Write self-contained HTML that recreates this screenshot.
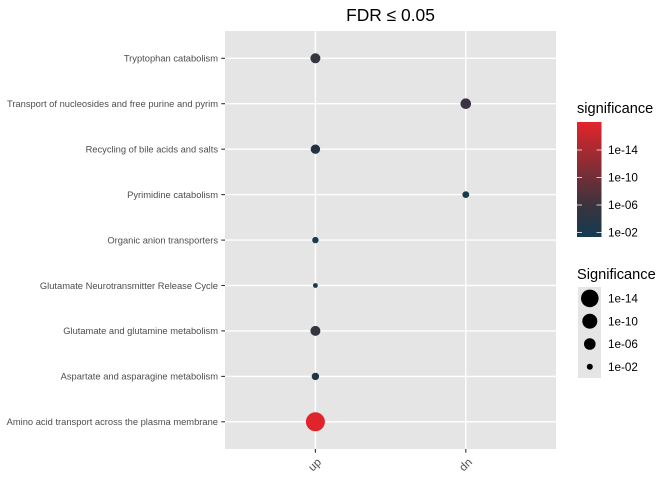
<!DOCTYPE html>
<html>
<head>
<meta charset="utf-8">
<style>
html,body{margin:0;padding:0;background:#fff;}
svg{display:block;font-family:"Liberation Sans",Arial,sans-serif;}
</style>
</head>
<body>
<svg width="672" height="480" viewBox="0 0 672 480" xmlns="http://www.w3.org/2000/svg">
  <defs>
    <linearGradient id="cb" x1="0" y1="1" x2="0" y2="0">
      <stop offset="0" stop-color="#143b52"/>
      <stop offset="0.25" stop-color="#36343f"/>
      <stop offset="0.5" stop-color="#6c2f38"/>
      <stop offset="0.75" stop-color="#a72a31"/>
      <stop offset="1" stop-color="#e3242b"/>
    </linearGradient>
  </defs>
  <rect width="672" height="480" fill="#fff"/>
  <!-- title -->
  <text x="390.5" y="21" font-size="17.4" text-anchor="middle" fill="#000">FDR ≤ 0.05</text>
  <!-- panel -->
  <rect x="225" y="31" width="331" height="418" fill="#e5e5e5"/>
  <g stroke="#fff" stroke-width="1.4">
    <line x1="225" x2="556" y1="58.3" y2="58.3"/>
    <line x1="225" x2="556" y1="103.7" y2="103.7"/>
    <line x1="225" x2="556" y1="149.2" y2="149.2"/>
    <line x1="225" x2="556" y1="194.6" y2="194.6"/>
    <line x1="225" x2="556" y1="240.1" y2="240.1"/>
    <line x1="225" x2="556" y1="285.5" y2="285.5"/>
    <line x1="225" x2="556" y1="330.9" y2="330.9"/>
    <line x1="225" x2="556" y1="376.4" y2="376.4"/>
    <line x1="225" x2="556" y1="421.8" y2="421.8"/>
    <line x1="315.4" x2="315.4" y1="31" y2="449"/>
    <line x1="465.8" x2="465.8" y1="31" y2="449"/>
  </g>
  <!-- points -->
  <circle cx="315.4" cy="58.3" r="5" fill="#33353f"/>
  <circle cx="465.8" cy="103.7" r="5.3" fill="#3a3341"/>
  <circle cx="315.4" cy="149.2" r="4.7" fill="#223242"/>
  <circle cx="465.8" cy="194.6" r="3.4" fill="#183a4f"/>
  <circle cx="315.4" cy="240.1" r="3.2" fill="#1a3a4e"/>
  <circle cx="315.4" cy="285.5" r="2.4" fill="#163b50"/>
  <circle cx="315.4" cy="330.9" r="5" fill="#33353f"/>
  <circle cx="315.4" cy="376.4" r="3.7" fill="#1e3647"/>
  <circle cx="315.4" cy="421.8" r="9.5" fill="#e0242b"/>
  <!-- ticks -->
  <g stroke="#333" stroke-width="1.1">
    <line x1="221.3" x2="225" y1="58.3" y2="58.3"/>
    <line x1="221.3" x2="225" y1="103.7" y2="103.7"/>
    <line x1="221.3" x2="225" y1="149.2" y2="149.2"/>
    <line x1="221.3" x2="225" y1="194.6" y2="194.6"/>
    <line x1="221.3" x2="225" y1="240.1" y2="240.1"/>
    <line x1="221.3" x2="225" y1="285.5" y2="285.5"/>
    <line x1="221.3" x2="225" y1="330.9" y2="330.9"/>
    <line x1="221.3" x2="225" y1="376.4" y2="376.4"/>
    <line x1="221.3" x2="225" y1="421.8" y2="421.8"/>
    <line x1="315.4" x2="315.4" y1="449" y2="452.7"/>
    <line x1="465.8" x2="465.8" y1="449" y2="452.7"/>
  </g>
  <!-- y labels -->
  <g font-size="9.35" fill="#4d4d4d" text-anchor="end">
    <text x="218" y="61.6">Tryptophan catabolism</text>
    <text x="218" y="107">Transport of nucleosides and free purine and pyrim</text>
    <text x="218" y="152.5">Recycling of bile acids and salts</text>
    <text x="218" y="197.9">Pyrimidine catabolism</text>
    <text x="218" y="243.4">Organic anion transporters</text>
    <text x="218" y="288.8">Glutamate Neurotransmitter Release Cycle</text>
    <text x="218" y="334.2">Glutamate and glutamine metabolism</text>
    <text x="218" y="379.7">Aspartate and asparagine metabolism</text>
    <text x="218" y="425.1">Amino acid transport across the plasma membrane</text>
  </g>
  <!-- x labels -->
  <g font-size="11.5" fill="#4d4d4d" text-anchor="middle">
    <text transform="translate(314.5,464.5) rotate(-45)" y="4">up</text>
    <text transform="translate(465.5,464.5) rotate(-45)" y="4">dn</text>
  </g>
  <!-- colorbar legend -->
  <text x="577" y="113" font-size="14.6" fill="#000">significance</text>
  <rect x="577" y="122" width="24.5" height="115" fill="url(#cb)"/>
  <g stroke="#fff" stroke-opacity="0.75" stroke-width="1">
    <line x1="577" x2="582" y1="150" y2="150"/><line x1="596.5" x2="601.5" y1="150" y2="150"/>
    <line x1="577" x2="582" y1="177.5" y2="177.5"/><line x1="596.5" x2="601.5" y1="177.5" y2="177.5"/>
    <line x1="577" x2="582" y1="205" y2="205"/><line x1="596.5" x2="601.5" y1="205" y2="205"/>
    <line x1="577" x2="582" y1="232.5" y2="232.5"/><line x1="596.5" x2="601.5" y1="232.5" y2="232.5"/>
  </g>
  <g font-size="11.7" fill="#000">
    <text x="608" y="154.2">1e-14</text>
    <text x="608" y="181.7">1e-10</text>
    <text x="608" y="209.2">1e-06</text>
    <text x="608" y="236.7">1e-02</text>
  </g>
  <!-- size legend -->
  <text x="577" y="279" font-size="14.6" fill="#000">Significance</text>
  <rect x="578" y="287" width="23" height="91" fill="#e5e5e5"/>
  <circle cx="589.8" cy="298.4" r="8.8" fill="#000"/>
  <circle cx="589.8" cy="321.2" r="7.5" fill="#000"/>
  <circle cx="589.8" cy="344" r="5.8" fill="#000"/>
  <circle cx="589.8" cy="366.8" r="3" fill="#000"/>
  <g font-size="11.7" fill="#000">
    <text x="608" y="302.6">1e-14</text>
    <text x="608" y="325.4">1e-10</text>
    <text x="608" y="348.2">1e-06</text>
    <text x="608" y="371">1e-02</text>
  </g>
</svg>
</body>
</html>
